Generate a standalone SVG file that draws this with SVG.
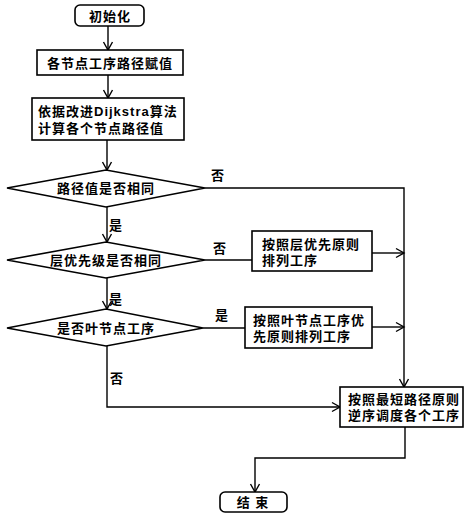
<svg xmlns="http://www.w3.org/2000/svg" width="474" height="518" viewBox="0 0 474 518">
<style>
.b{fill:#fff;stroke:#000;stroke-width:1.6}
.t{font-family:"Liberation Sans","Noto Sans CJK SC",sans-serif;font-size:13px;letter-spacing:1px;font-weight:bold;fill:#000}
.c{text-anchor:middle;dominant-baseline:central}
.l{dominant-baseline:central}
.e{fill:none;stroke:#000;stroke-width:1.4}
</style>
<defs>
<marker id="a" markerWidth="12" markerHeight="12" refX="10" refY="6" orient="auto" markerUnits="userSpaceOnUse">
<polyline points="2,1.5 10,6 2,10.5" fill="none" stroke="#000" stroke-width="1.4"/>
</marker>
</defs>
<rect width="474" height="518" fill="#fff"/>
<g id="edges">
<line class="e" x1="108" y1="26" x2="108" y2="50" marker-end="url(#a)"/>
<line class="e" x1="108" y1="75" x2="108" y2="98" marker-end="url(#a)"/>
<line class="e" x1="107" y1="140" x2="107" y2="170" marker-end="url(#a)"/>
<polyline class="e" points="205,188 404,188 404,387" marker-end="url(#a)"/>
<line class="e" x1="107" y1="207" x2="107" y2="242" marker-end="url(#a)"/>
<line class="e" x1="205" y1="260" x2="252" y2="260"/>
<line class="e" x1="372" y1="253" x2="404" y2="253" marker-end="url(#a)"/>
<line class="e" x1="107" y1="278" x2="107" y2="309" marker-end="url(#a)"/>
<line class="e" x1="203" y1="328" x2="245" y2="328"/>
<line class="e" x1="372" y1="327" x2="404" y2="327" marker-end="url(#a)"/>
<polyline class="e" points="107,346 107,407 340,407" marker-end="url(#a)"/>
<polyline class="e" points="405,427 405,458 255,458 255,492" marker-end="url(#a)"/>
<text class="t c" x="218" y="175">否</text>
<text class="t c" x="116" y="225">是</text>
<text class="t c" x="220" y="248">否</text>
<text class="t c" x="116" y="299">是</text>
<text class="t c" x="222" y="315">是</text>
<text class="t c" x="117" y="378">否</text>
</g>
<g id="start">
<rect class="b" x="75" y="5" width="69" height="21" rx="5"/>
<text class="t c" x="110" y="16">初始化</text>
</g>
<g id="assign">
<rect class="b" x="37" y="50" width="146" height="25"/>
<text class="t c" x="110" y="63">各节点工序路径赋值</text>
</g>
<g id="dijkstra">
<rect class="b" x="32" y="98" width="152" height="42"/>
<text class="t l" x="38" y="111">依据改进Dijkstra算法</text>
<text class="t l" x="38" y="128">计算各个节点路径值</text>
</g>
<g id="d1">
<polygon class="b" points="7,188 106,170 205,188 106,207"/>
<text class="t c" x="106" y="188">路径值是否相同</text>
</g>
<g id="d2">
<polygon class="b" points="7,260 106,242 205,260 106,278"/>
<text class="t c" x="106" y="260">层优先级是否相同</text>
</g>
<g id="d3">
<polygon class="b" points="7,328 106,309 203,328 106,346"/>
<text class="t c" x="106" y="328">是否叶节点工序</text>
</g>
<g id="layer">
<rect class="b" x="252" y="231" width="120" height="40"/>
<text class="t l" x="262" y="244">按照层优先原则</text>
<text class="t l" x="262" y="260">排列工序</text>
</g>
<g id="leaf">
<rect class="b" x="245" y="307" width="127" height="41"/>
<text class="t l" x="253" y="320">按照叶节点工序优</text>
<text class="t l" x="253" y="336">先原则排列工序</text>
</g>
<g id="shortest">
<rect class="b" x="340" y="387" width="123" height="40"/>
<text class="t l" x="348" y="399">按照最短路径原则</text>
<text class="t l" x="348" y="415">逆序调度各个工序</text>
</g>
<g id="end">
<rect class="b" x="220" y="492" width="67" height="20" rx="5"/>
<text class="t c" x="253" y="502">结 束</text>
</g>
</svg>
